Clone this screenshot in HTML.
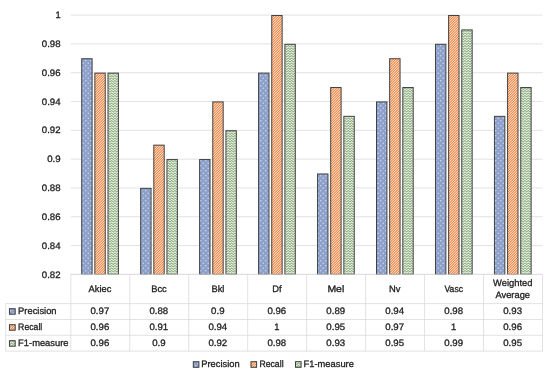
<!DOCTYPE html>
<html><head><meta charset="utf-8"><title>Chart</title>
<style>html,body{margin:0;padding:0;background:#fff}svg{display:block}text{font-family:"Liberation Sans",sans-serif;font-size:9.3px;fill:#1e1e1e;stroke:#1e1e1e;stroke-width:0.3px;text-rendering:geometricPrecision}</style></head><body>
<svg width="550" height="373" viewBox="0 0 550 373">
<defs>
<pattern id="pb" width="5" height="5" patternUnits="userSpaceOnUse"><rect width="5" height="5" fill="#8ca0ca"/><rect x="0.2" y="0.2" width="1.1" height="1.1" fill="#e4eaf6"/><rect x="2.7" y="2.7" width="1.1" height="1.1" fill="#e4eaf6"/></pattern>
<pattern id="po" width="5" height="5" patternUnits="userSpaceOnUse"><rect width="5" height="5" fill="#fffdfb"/><path d="M-1,1 L1,-1 M-1,3.5 L3.5,-1 M-1,6 L6,-1 M1.5,6 L6,1.5 M4,6 L6,4" stroke="#f0803a" stroke-width="1.1"/></pattern>
<pattern id="pg" width="10" height="5" patternUnits="userSpaceOnUse"><rect width="10" height="5" fill="#fafcf9"/><path d="M-1.667,-2.100 L0.000,-0.433 L1.667,-2.100 L3.333,-0.433 L5.000,-2.100 L6.667,-0.433 L8.334,-2.100 L10.000,-0.433 L11.667,-2.100 M-1.667,0.400 L0.000,2.067 L1.667,0.400 L3.333,2.067 L5.000,0.400 L6.667,2.067 L8.334,0.400 L10.000,2.067 L11.667,0.400 M-1.667,2.900 L0.000,4.567 L1.667,2.900 L3.333,4.567 L5.000,2.900 L6.667,4.567 L8.334,2.900 L10.000,4.567 L11.667,2.900" fill="none" stroke="#8cae7d" stroke-width="1.08"/></pattern>
</defs>
<rect width="550" height="373" fill="#fff"/>
<line x1="70.80" y1="15.10" x2="542.50" y2="15.10" stroke="#dbdbdb" stroke-width="0.8"/>
<text transform="translate(60.60 18.20) scale(1.006 1)" text-anchor="end">1</text>
<line x1="70.80" y1="43.91" x2="542.50" y2="43.91" stroke="#dbdbdb" stroke-width="0.8"/>
<text transform="translate(60.60 47.01) scale(1.036 1)" text-anchor="end">0.98</text>
<line x1="70.80" y1="72.72" x2="542.50" y2="72.72" stroke="#dbdbdb" stroke-width="0.8"/>
<text transform="translate(60.60 75.82) scale(1.036 1)" text-anchor="end">0.96</text>
<line x1="70.80" y1="101.53" x2="542.50" y2="101.53" stroke="#dbdbdb" stroke-width="0.8"/>
<text transform="translate(60.60 104.63) scale(1.036 1)" text-anchor="end">0.94</text>
<line x1="70.80" y1="130.34" x2="542.50" y2="130.34" stroke="#dbdbdb" stroke-width="0.8"/>
<text transform="translate(60.60 133.44) scale(1.036 1)" text-anchor="end">0.92</text>
<line x1="70.80" y1="159.16" x2="542.50" y2="159.16" stroke="#dbdbdb" stroke-width="0.8"/>
<text transform="translate(60.60 162.26) scale(1.036 1)" text-anchor="end">0.9</text>
<line x1="70.80" y1="187.97" x2="542.50" y2="187.97" stroke="#dbdbdb" stroke-width="0.8"/>
<text transform="translate(60.60 191.07) scale(1.036 1)" text-anchor="end">0.88</text>
<line x1="70.80" y1="216.78" x2="542.50" y2="216.78" stroke="#dbdbdb" stroke-width="0.8"/>
<text transform="translate(60.60 219.88) scale(1.036 1)" text-anchor="end">0.86</text>
<line x1="70.80" y1="245.59" x2="542.50" y2="245.59" stroke="#dbdbdb" stroke-width="0.8"/>
<text transform="translate(60.60 248.69) scale(1.036 1)" text-anchor="end">0.84</text>
<line x1="70.80" y1="274.40" x2="542.50" y2="274.40" stroke="#dbdbdb" stroke-width="0.8"/>
<text transform="translate(60.60 277.50) scale(1.036 1)" text-anchor="end">0.82</text>
<rect x="81.70" y="58.72" width="10.40" height="215.68" fill="url(#pb)" stroke="#414141" stroke-width="1"/>
<rect x="94.85" y="73.12" width="10.40" height="201.28" fill="url(#po)" stroke="#414141" stroke-width="1"/>
<rect x="108.00" y="73.12" width="10.40" height="201.28" fill="url(#pg)" stroke="#414141" stroke-width="1"/>
<rect x="140.66" y="188.37" width="10.40" height="86.03" fill="url(#pb)" stroke="#414141" stroke-width="1"/>
<rect x="153.81" y="145.15" width="10.40" height="129.25" fill="url(#po)" stroke="#414141" stroke-width="1"/>
<rect x="166.96" y="159.56" width="10.40" height="114.84" fill="url(#pg)" stroke="#414141" stroke-width="1"/>
<rect x="199.62" y="159.56" width="10.40" height="114.84" fill="url(#pb)" stroke="#414141" stroke-width="1"/>
<rect x="212.78" y="101.93" width="10.40" height="172.47" fill="url(#po)" stroke="#414141" stroke-width="1"/>
<rect x="225.93" y="130.74" width="10.40" height="143.66" fill="url(#pg)" stroke="#414141" stroke-width="1"/>
<rect x="258.59" y="73.12" width="10.40" height="201.28" fill="url(#pb)" stroke="#414141" stroke-width="1"/>
<rect x="271.74" y="15.50" width="10.40" height="258.90" fill="url(#po)" stroke="#414141" stroke-width="1"/>
<rect x="284.89" y="44.31" width="10.40" height="230.09" fill="url(#pg)" stroke="#414141" stroke-width="1"/>
<rect x="317.55" y="173.96" width="10.40" height="100.44" fill="url(#pb)" stroke="#414141" stroke-width="1"/>
<rect x="330.70" y="87.53" width="10.40" height="186.87" fill="url(#po)" stroke="#414141" stroke-width="1"/>
<rect x="343.85" y="116.34" width="10.40" height="158.06" fill="url(#pg)" stroke="#414141" stroke-width="1"/>
<rect x="376.51" y="101.93" width="10.40" height="172.47" fill="url(#pb)" stroke="#414141" stroke-width="1"/>
<rect x="389.66" y="58.72" width="10.40" height="215.68" fill="url(#po)" stroke="#414141" stroke-width="1"/>
<rect x="402.81" y="87.53" width="10.40" height="186.87" fill="url(#pg)" stroke="#414141" stroke-width="1"/>
<rect x="435.47" y="44.31" width="10.40" height="230.09" fill="url(#pb)" stroke="#414141" stroke-width="1"/>
<rect x="448.62" y="15.50" width="10.40" height="258.90" fill="url(#po)" stroke="#414141" stroke-width="1"/>
<rect x="461.77" y="29.91" width="10.40" height="244.49" fill="url(#pg)" stroke="#414141" stroke-width="1"/>
<rect x="494.44" y="116.34" width="10.40" height="158.06" fill="url(#pb)" stroke="#414141" stroke-width="1"/>
<rect x="507.59" y="73.12" width="10.40" height="201.28" fill="url(#po)" stroke="#414141" stroke-width="1"/>
<rect x="520.74" y="87.53" width="10.40" height="186.87" fill="url(#pg)" stroke="#414141" stroke-width="1"/>
<line x1="70.80" y1="274.40" x2="542.50" y2="274.40" stroke="#dbdbdb" stroke-width="0.8"/>
<line x1="5.7" y1="303.60" x2="542.50" y2="303.60" stroke="#dbdbdb" stroke-width="0.8"/>
<line x1="5.7" y1="319.50" x2="542.50" y2="319.50" stroke="#dbdbdb" stroke-width="0.8"/>
<line x1="5.7" y1="335.30" x2="542.50" y2="335.30" stroke="#dbdbdb" stroke-width="0.8"/>
<line x1="5.7" y1="351.10" x2="542.50" y2="351.10" stroke="#dbdbdb" stroke-width="0.8"/>
<line x1="5.7" y1="303.60" x2="5.7" y2="351.10" stroke="#dbdbdb" stroke-width="0.8"/>
<line x1="70.80" y1="274.40" x2="70.80" y2="351.10" stroke="#dbdbdb" stroke-width="0.8"/>
<line x1="129.76" y1="274.40" x2="129.76" y2="351.10" stroke="#dbdbdb" stroke-width="0.8"/>
<line x1="188.72" y1="274.40" x2="188.72" y2="351.10" stroke="#dbdbdb" stroke-width="0.8"/>
<line x1="247.69" y1="274.40" x2="247.69" y2="351.10" stroke="#dbdbdb" stroke-width="0.8"/>
<line x1="306.65" y1="274.40" x2="306.65" y2="351.10" stroke="#dbdbdb" stroke-width="0.8"/>
<line x1="365.61" y1="274.40" x2="365.61" y2="351.10" stroke="#dbdbdb" stroke-width="0.8"/>
<line x1="424.57" y1="274.40" x2="424.57" y2="351.10" stroke="#dbdbdb" stroke-width="0.8"/>
<line x1="483.54" y1="274.40" x2="483.54" y2="351.10" stroke="#dbdbdb" stroke-width="0.8"/>
<line x1="542.50" y1="274.40" x2="542.50" y2="351.10" stroke="#dbdbdb" stroke-width="0.8"/>
<text transform="translate(99.98 292.10) scale(1.006 1)" text-anchor="middle">Akiec</text>
<text transform="translate(158.94 292.10) scale(1.006 1)" text-anchor="middle">Bcc</text>
<text transform="translate(217.91 292.10) scale(1.006 1)" text-anchor="middle">Bkl</text>
<text transform="translate(276.87 292.10) scale(1.006 1)" text-anchor="middle">Df</text>
<text transform="translate(335.83 292.10) scale(1.127 1)" text-anchor="middle">Mel</text>
<text transform="translate(394.79 292.10) scale(1.006 1)" text-anchor="middle">Nv</text>
<text transform="translate(453.76 292.10) scale(0.926 1)" text-anchor="middle">Vasc</text>
<text transform="translate(512.72 285.60) scale(1.006 1)" text-anchor="middle">Weighted</text>
<text transform="translate(512.72 297.80) scale(1.006 1)" text-anchor="middle">Average</text>
<rect x="9.45" y="308.70" width="5.75" height="5.5" fill="url(#pb)" stroke="#3d3d3d" stroke-width="1"/>
<text transform="translate(18.10 314.20) scale(1.006 1)">Precision</text>
<text transform="translate(99.88 314.20) scale(1.036 1)" text-anchor="middle">0.97</text>
<text transform="translate(158.84 314.20) scale(1.036 1)" text-anchor="middle">0.88</text>
<text transform="translate(217.81 314.20) scale(1.036 1)" text-anchor="middle">0.9</text>
<text transform="translate(276.77 314.20) scale(1.036 1)" text-anchor="middle">0.96</text>
<text transform="translate(335.73 314.20) scale(1.036 1)" text-anchor="middle">0.89</text>
<text transform="translate(394.69 314.20) scale(1.036 1)" text-anchor="middle">0.94</text>
<text transform="translate(453.66 314.20) scale(1.036 1)" text-anchor="middle">0.98</text>
<text transform="translate(512.62 314.20) scale(1.036 1)" text-anchor="middle">0.93</text>
<rect x="9.45" y="324.70" width="5.75" height="5.5" fill="url(#po)" stroke="#3d3d3d" stroke-width="1"/>
<text transform="translate(18.10 330.20) scale(0.936 1)">Recall</text>
<text transform="translate(99.88 330.20) scale(1.036 1)" text-anchor="middle">0.96</text>
<text transform="translate(158.84 330.20) scale(1.036 1)" text-anchor="middle">0.91</text>
<text transform="translate(217.81 330.20) scale(1.036 1)" text-anchor="middle">0.94</text>
<text transform="translate(276.77 330.20) scale(1.006 1)" text-anchor="middle">1</text>
<text transform="translate(335.73 330.20) scale(1.036 1)" text-anchor="middle">0.95</text>
<text transform="translate(394.69 330.20) scale(1.036 1)" text-anchor="middle">0.97</text>
<text transform="translate(453.66 330.20) scale(1.006 1)" text-anchor="middle">1</text>
<text transform="translate(512.62 330.20) scale(1.036 1)" text-anchor="middle">0.96</text>
<rect x="9.45" y="340.70" width="5.75" height="5.5" fill="url(#pg)" stroke="#3d3d3d" stroke-width="1"/>
<text transform="translate(18.10 346.20) scale(1.006 1)">F1-measure</text>
<text transform="translate(99.88 346.20) scale(1.036 1)" text-anchor="middle">0.96</text>
<text transform="translate(158.84 346.20) scale(1.036 1)" text-anchor="middle">0.9</text>
<text transform="translate(217.81 346.20) scale(1.036 1)" text-anchor="middle">0.92</text>
<text transform="translate(276.77 346.20) scale(1.036 1)" text-anchor="middle">0.98</text>
<text transform="translate(335.73 346.20) scale(1.036 1)" text-anchor="middle">0.93</text>
<text transform="translate(394.69 346.20) scale(1.036 1)" text-anchor="middle">0.95</text>
<text transform="translate(453.66 346.20) scale(1.036 1)" text-anchor="middle">0.99</text>
<text transform="translate(512.62 346.20) scale(1.036 1)" text-anchor="middle">0.95</text>
<rect x="193.30" y="361.7" width="5.6" height="5.6" fill="url(#pb)" stroke="#3d3d3d" stroke-width="1"/>
<text transform="translate(201.20 367.20) scale(1.006 1)">Precision</text>
<rect x="251.00" y="361.7" width="5.6" height="5.6" fill="url(#po)" stroke="#3d3d3d" stroke-width="1"/>
<text transform="translate(259.40 367.20) scale(0.936 1)">Recall</text>
<rect x="295.50" y="361.7" width="5.6" height="5.6" fill="url(#pg)" stroke="#3d3d3d" stroke-width="1"/>
<text transform="translate(303.50 367.20) scale(1.006 1)">F1-measure</text>
</svg></body></html>
